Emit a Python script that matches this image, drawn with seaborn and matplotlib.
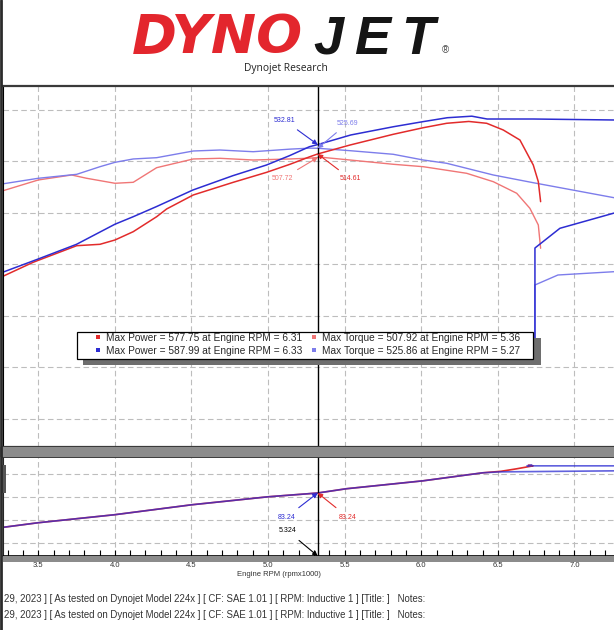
import matplotlib
matplotlib.use("Agg")
import seaborn as sns
import matplotlib.pyplot as plt
from matplotlib.lines import Line2D
from matplotlib.patches import Rectangle

# --- values (rpm x1000) ---
# run 2 (dark blue) power, incl. the rundown that comes back into view
db_rpm = [3.25, 3.50, 3.75, 4.00, 4.12, 4.27, 4.51, 4.77, 4.99, 5.14, 5.27, 5.324, 5.54, 5.82,
          6.01, 6.17, 6.33, 6.43, 6.73, 7.26, 7.40, 7.40, 7.26, 6.905, 6.742, 6.742]
db_power = [282.9, 310.7, 339.2, 378.1, 392.8, 412.2, 444.7, 472.4, 493.2, 511.3, 528.7, 532.81, 551.5, 567.6,
            577.3, 585.0, 587.99, 582.5, 582.5, 580.6, 580.0, 420.0, 400.0, 370.3, 332.0, 150.0]

# run 1 (red) power
dr_rpm = [3.25, 3.467, 3.751, 3.903, 4.001, 4.12, 4.273, 4.338, 4.512, 4.773, 4.991, 5.143, 5.273,
          5.324, 5.535, 5.817, 6.013, 6.166, 6.31, 6.427, 6.535, 6.644, 6.731, 6.764, 6.779]
dr_power = [274.4, 304.3, 336.5, 339.2, 347.6, 363.7, 392.8, 407.8, 435.0, 459.6, 479.0, 494.6, 509.3,
            514.61, 532.0, 552.8, 565.6, 574.2, 577.75, 574.2, 561.2, 541.7, 493.2, 460.8, 422.0]

# run 2 (light blue) torque
lb_rpm = [3.25, 3.50, 3.751, 3.903, 4.001, 4.12, 4.273, 4.512, 4.686, 4.903, 5.143, 5.27, 5.324,
          5.535, 5.817, 6.013, 6.166, 6.47, 6.731, 7.258, 7.40, 7.40, 7.258, 6.892, 6.742, 6.742]
lb_torque = [455.7, 467.4, 475.1, 489.9, 498.4, 504.9, 507.4, 520.4, 522.3, 519.0, 524.0, 525.86, 525.69,
             521.0, 514.0, 502.9, 496.5, 473.8, 458.8, 429.7, 425.0, 290.0, 286.0, 279.6, 260.2, 150.0]

# run 1 (light red) torque
lr_rpm = [3.25, 3.50, 3.718, 3.816, 4.001, 4.12, 4.273, 4.512, 4.686, 4.903, 5.143, 5.273, 5.324,
          5.36, 5.535, 5.817, 6.013, 6.296, 6.47, 6.623, 6.709, 6.764, 6.779]
lr_torque = [441.4, 464.1, 473.8, 467.4, 457.7, 459.6, 488.0, 504.9, 506.2, 502.9, 504.9, 506.5, 507.72,
             507.92, 502.9, 494.6, 489.9, 477.1, 460.8, 438.3, 409.1, 376.7, 331.5]

# lower pane (speed)
spd_blue_rpm = [3.25, 3.50, 4.00, 4.50, 5.00, 5.324, 5.51, 6.01, 6.40, 6.51, 7.26, 7.40, 7.40, 6.69, 6.72]
spd_blue = [53.4, 57.7, 64.6, 73.1, 80.0, 83.24, 86.9, 93.7, 100.6, 101.4, 102.3, 102.4, 106.6, 106.6, 107.4]
spd_red_rpm = [3.25, 3.50, 4.00, 4.50, 5.00, 5.324, 5.51, 6.01, 6.40, 6.52, 6.62, 6.73, 6.70]
spd_red = [53.4, 57.7, 64.6, 73.1, 80.0, 83.24, 86.9, 93.7, 100.6, 101.9, 104.0, 106.6, 107.2]

cursor_rpm = 5.324
legend_labels = ["Max Power = 577.75 at Engine RPM = 6.31",
                 "Max Power = 587.99 at Engine RPM = 6.33",
                 "Max Torque = 507.92 at Engine RPM = 5.36",
                 "Max Torque = 525.86 at Engine RPM = 5.27"]
footer = "29, 2023 ] [ As tested on Dynojet Model 224x ] [ CF: SAE 1.01 ] [ RPM: Inductive 1 ] [Title: ]   Notes:"

DARK_BLUE = "#2d2dd2"
RED = "#e22b2b"
LIGHT_BLUE = "#7d7deb"
LIGHT_RED = "#f07676"

sns.set_style("white")
plt.rcParams['font.family'] = ['Liberation Sans', 'DejaVu Sans']

W, H = 614, 630
fig = plt.figure(figsize=(6.14, 6.3), dpi=100)
fig.patch.set_facecolor("white")

def fx(px):
    return px / W

def fy(py):
    return 1 - py / H

ax = fig.add_axes([fx(3), fy(447), fx(611), 361 / H])
ax2 = fig.add_axes([fx(3), fy(556), fx(611), 99 / H])

# main pane
sns.lineplot(x=lr_rpm, y=lr_torque, sort=False, estimator=None, color=LIGHT_RED, lw=1.0, ax=ax)
sns.lineplot(x=lb_rpm, y=lb_torque, sort=False, estimator=None, color=LIGHT_BLUE, lw=1.0, ax=ax)
sns.lineplot(x=dr_rpm, y=dr_power, sort=False, estimator=None, color=RED, lw=1.1, ax=ax)
sns.lineplot(x=db_rpm, y=db_power, sort=False, estimator=None, color=DARK_BLUE, lw=1.1, ax=ax)

ax.set_xlim(3.27, 7.258)
ax.set_ylim(-54.4, 646.6)
ax.set_xticks([3.5, 4.0, 4.5, 5.0, 5.5, 6.0, 6.5, 7.0])
ax.set_yticks([0, 100, 200, 300, 400, 500, 600])
ax.tick_params(length=0, labelbottom=False, labelleft=False)
ax.grid(True, color="#bdbdbd", lw=0.8, ls=(0, (5, 3)))
ax.axvline(cursor_rpm, color="black", lw=1.0)
for side in ["top", "bottom"]:
    ax.spines[side].set_color("#3a3a3a")
    ax.spines[side].set_linewidth(1.6)
ax.spines["left"].set_color("black")
ax.spines["right"].set_visible(False)

# lower pane
sns.lineplot(x=spd_red_rpm, y=spd_red, sort=False, estimator=None, color=RED, lw=1.2, ax=ax2)
sns.lineplot(x=spd_blue_rpm, y=spd_blue, sort=False, estimator=None, color="#2d2dd2", lw=1.2, alpha=0.75, ax=ax2)
ax2.set_xlim(3.27, 7.258)
ax2.set_ylim(29.1, 114.2)
ax2.set_yticks([40, 60, 80, 100])
ax2.set_xticks([3.5, 4.0, 4.5, 5.0, 5.5, 6.0, 6.5, 7.0])
ax2.set_xticks([x / 10 for x in range(33, 73)], minor=True)
ax2.set_xticklabels([f"{t:.1f}" for t in [3.5, 4.0, 4.5, 5.0, 5.5, 6.0, 6.5, 7.0]])
ax2.tick_params(axis="x", which="both", direction="in", length=4, width=0.8, color="black",
                bottom=True, labelsize=5.5, pad=4.5, labelcolor="#333333")
ax2.tick_params(axis="y", length=0, labelleft=False)
ax2.grid(True, color="#bdbdbd", lw=0.8, ls=(0, (5, 3)))
ax2.grid(False, which="minor")
ax2.axvline(cursor_rpm, color="black", lw=1.0)
ax2.spines["bottom"].set_color("black")
ax2.spines["bottom"].set_linewidth(1.2)
ax2.spines["top"].set_color("#3a3a3a")
ax2.spines["top"].set_linewidth(1.4)
ax2.spines["right"].set_visible(False)

# legend: own frame + drop shadow, legend entries on top (long handle insets the marker)
ax.add_patch(Rectangle((fx(83), fy(365)), fx(458), 27 / H, transform=fig.transFigure,
                       facecolor="#6e6e6e", edgecolor="none", zorder=4.7, clip_on=False))
ax.add_patch(Rectangle((fx(77), fy(359)), fx(456), 27 / H, transform=fig.transFigure,
                       facecolor="white", edgecolor="black", lw=0.9, zorder=4.8, clip_on=False))
handles = [Line2D([], [], ls="", marker="s", markersize=3.2, color=c, markeredgewidth=0)
           for c in [RED, DARK_BLUE, LIGHT_RED, LIGHT_BLUE]]
leg = ax.legend(handles, legend_labels, ncol=2, loc="lower left", bbox_to_anchor=(0.1225, 0.244),
                fontsize=7.3, frameon=False, handlelength=3.4, handletextpad=-0.95,
                columnspacing=-0.5, borderpad=0.3, labelspacing=0.3, borderaxespad=0)
for t in leg.get_texts():
    t.set_color("#2a2a2a")


def tag(axis, y, text, dx, dy, color, xycoords="data"):
    axis.annotate(text, xy=(cursor_rpm, y), xycoords=xycoords, xytext=(dx, dy),
                  textcoords="offset pixels", ha="center", va="center", fontsize=5, color=color,
                  arrowprops=dict(arrowstyle="-|>", color=color, lw=0.8, mutation_scale=7,
                                  shrinkA=3, shrinkB=0))


tag(ax, 532.81, "532.81", -33, 24, DARK_BLUE)
tag(ax, 525.69, "525.69", 30, 25, LIGHT_BLUE)
tag(ax, 507.72, "507.72", -35, -21, LIGHT_RED)
tag(ax, 514.61, "514.61", 33, -25, RED)
tag(ax2, 83.24, "83.24", -31, -24, DARK_BLUE)
tag(ax2, 83.24, "83.24", 30, -24, RED)
tag(ax2, 0, "5.324", -30, 25, "black", xycoords=("data", "axes fraction"))

# frame pieces around the panes
fig.add_artist(Rectangle((fx(0), fy(457)), 1, 10 / H, transform=fig.transFigure,
                         facecolor="#8c8c8c", edgecolor="none"))
fig.add_artist(Rectangle((fx(3), fy(562)), 1, 6 / H, transform=fig.transFigure,
                         facecolor="#8c8c8c", edgecolor="none"))
fig.add_artist(Rectangle((fx(2), fy(493)), fx(4), 28 / H, transform=fig.transFigure,
                         facecolor="#555555", edgecolor="none"))
fig.add_artist(Line2D([fx(1.5), fx(1.5)], [0, 1], transform=fig.transFigure, color="#2b2b2b", lw=2))

# header logo
fig.text(fx(132), fy(53), "DYNO", color="#e3262d", fontsize=39, fontweight="bold", style="oblique",
         family="DejaVu Sans", ha="left", va="baseline")
fig.text(fx(314), fy(53), "J\u2009E\u2009T", color="#151515", fontsize=39, fontweight="bold",
         style="italic", family=["Liberation Sans", "DejaVu Sans"], ha="left", va="baseline")
fig.text(fx(445), fy(50), "®", color="#444444", fontsize=7, ha="center", va="center")
fig.text(fx(286), fy(69), "Dynojet Research", color="#222222", fontsize=7.4, family="Open Sans",
         ha="center", va="center")

fig.text(fx(279), fy(575), "Engine RPM (rpmx1000)", color="#333333", fontsize=5.5, ha="center", va="center")
fig.text(fx(4), fy(599), footer, color="#333333", fontsize=6.9, ha="left", va="center")
fig.text(fx(4), fy(615), footer, color="#333333", fontsize=6.9, ha="left", va="center")

fig.savefig("out.png", dpi=100)
